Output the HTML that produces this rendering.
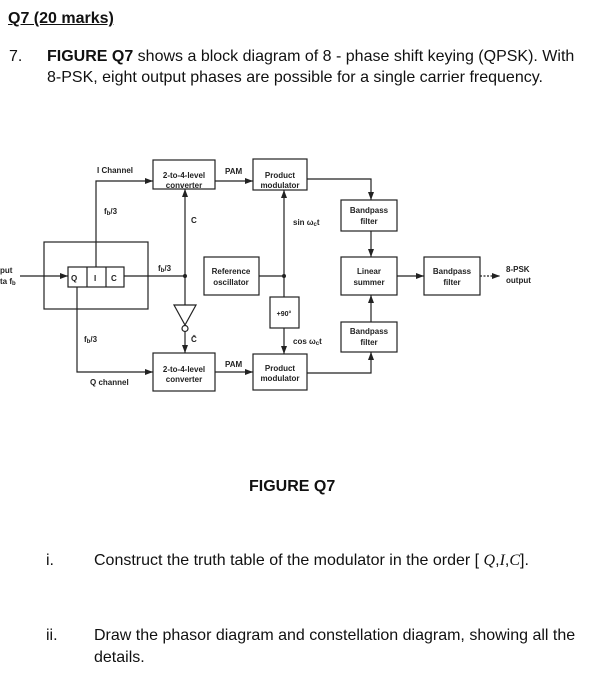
<!DOCTYPE html>
<html><head><meta charset="utf-8">
<style>
body{margin:0;width:608px;height:688px;background:#fff;position:relative;font-family:"Liberation Sans",sans-serif;color:#111;overflow:hidden}
.t{position:absolute;font-size:16px;white-space:nowrap;line-height:1}
svg{position:absolute;left:0;top:0}
svg text{font-family:"Liberation Sans",sans-serif;font-weight:bold;fill:#222}
</style></head><body>
<div class="t" style="left:8px;top:11px;font-weight:bold;text-decoration:underline">Q7 (20 marks)</div>
<div class="t" style="left:9px;top:49px">7.</div>
<div class="t" style="left:47px;top:49px"><b>FIGURE Q7</b> shows a block diagram of 8 - phase shift keying (QPSK). With</div>
<div class="t" style="left:47px;top:70px">8-PSK, eight output phases are possible for a single carrier frequency.</div>
<div class="t" style="left:249px;top:479px;font-weight:bold">FIGURE Q7</div>
<div class="t" style="left:46px;top:553px">i.</div>
<div class="t" style="left:94px;top:553px">Construct the truth table of the modulator in the order [ <i style="font-family:'Liberation Serif',serif">Q</i>,<i style="font-family:'Liberation Serif',serif">I</i>,<i style="font-family:'Liberation Serif',serif">C</i>].</div>
<div class="t" style="left:46px;top:628px">ii.</div>
<div class="t" style="left:94px;top:628px">Draw the phasor diagram and constellation diagram, showing all the</div>
<div class="t" style="left:94px;top:650px">details.</div>

<svg width="608" height="688" viewBox="0 0 608 688">
<defs><marker id="a" markerWidth="8" markerHeight="6" refX="8" refY="3" orient="auto" markerUnits="userSpaceOnUse"><path d="M0,0 L8,3 L0,6 z" fill="#222"/></marker></defs>
<g stroke="#222" stroke-width="1.2" fill="none">
<rect x="44" y="242" width="104" height="67"/>
<rect x="68" y="267" width="56" height="20"/>
<line x1="87" y1="267" x2="87" y2="287"/><line x1="106" y1="267" x2="106" y2="287"/>
<rect x="153" y="160" width="62" height="29"/>
<rect x="153" y="353" width="62" height="38"/>
<rect x="253" y="159" width="54" height="31"/>
<rect x="253" y="354" width="54" height="36"/>
<rect x="204" y="257" width="55" height="38"/>
<rect x="270" y="297" width="29" height="31"/>
<rect x="341" y="200" width="56" height="31"/>
<rect x="341" y="257" width="56" height="38"/>
<rect x="341" y="322" width="56" height="30"/>
<rect x="424" y="257" width="56" height="38"/>
<line x1="20" y1="276" x2="68" y2="276" marker-end="url(#a)"/>
<polyline points="96,267 96,181 153,181" marker-end="url(#a)"/>
<polyline points="77,287 77,372 153,372" marker-end="url(#a)"/>
<line x1="124" y1="276" x2="185" y2="276"/>
<line x1="185" y1="276" x2="185" y2="189" marker-end="url(#a)"/>
<line x1="185" y1="276" x2="185" y2="305"/>
<path d="M174,305 L196,305 L185,325 z"/>
<circle cx="185" cy="328.5" r="3"/>
<line x1="185" y1="332" x2="185" y2="353" marker-end="url(#a)"/>
<line x1="215" y1="181" x2="253" y2="181" marker-end="url(#a)"/>
<line x1="215" y1="372" x2="253" y2="372" marker-end="url(#a)"/>
<line x1="259" y1="276" x2="284" y2="276"/>
<line x1="284" y1="297" x2="284" y2="190" marker-end="url(#a)"/>
<line x1="284" y1="328" x2="284" y2="354" marker-end="url(#a)"/>
<polyline points="307,179 371,179 371,200" marker-end="url(#a)"/>
<line x1="371" y1="231" x2="371" y2="257" marker-end="url(#a)"/>
<polyline points="307,373 371,373 371,352" marker-end="url(#a)"/>
<line x1="371" y1="322" x2="371" y2="295" marker-end="url(#a)"/>
<line x1="397" y1="276" x2="424" y2="276" marker-end="url(#a)"/>
<line x1="480" y1="276" x2="500" y2="276" stroke-dasharray="2,1.5" marker-end="url(#a)"/>
</g>
<circle cx="185" cy="276" r="2" fill="#222"/><circle cx="284" cy="276" r="2" fill="#222"/>
<g font-size="8">
<text x="0" y="273">put</text><text x="0" y="284">ta f<tspan font-size="6" dy="1">b</tspan></text>
<text x="71" y="281">Q</text><text x="94" y="281">I</text><text x="111" y="281">C</text>
<text x="97" y="173" font-weight="normal">I Channel</text>
<text x="104" y="214">f<tspan font-size="6" dy="1">b</tspan><tspan dy="-1">/3</tspan></text>
<text x="158" y="271">f<tspan font-size="6" dy="1">b</tspan><tspan dy="-1">/3</tspan></text>
<text x="84" y="342">f<tspan font-size="6" dy="1">b</tspan><tspan dy="-1">/3</tspan></text>
<text x="191" y="223">C</text>
<text x="191" y="342">C̄</text>
<text x="90" y="385" font-weight="normal">Q channel</text>
<text x="184" y="178" text-anchor="middle">2-to-4-level</text><text x="184" y="188" text-anchor="middle">converter</text>
<text x="184" y="372" text-anchor="middle">2-to-4-level</text><text x="184" y="382" text-anchor="middle">converter</text>
<text x="225" y="174">PAM</text><text x="225" y="367">PAM</text>
<text x="280" y="178" text-anchor="middle">Product</text><text x="280" y="188" text-anchor="middle">modulator</text>
<text x="280" y="371" text-anchor="middle">Product</text><text x="280" y="381" text-anchor="middle">modulator</text>
<text x="231" y="274" text-anchor="middle">Reference</text><text x="231" y="285" text-anchor="middle">oscillator</text>
<text x="284" y="316" text-anchor="middle" font-size="7">+90°</text>
<text x="293" y="225" font-weight="normal">sin ω<tspan font-size="6" dy="1">c</tspan><tspan dy="-1">t</tspan></text>
<text x="293" y="344" font-weight="normal">cos ω<tspan font-size="6" dy="1">c</tspan><tspan dy="-1">t</tspan></text>
<text x="369" y="213" text-anchor="middle">Bandpass</text><text x="369" y="224" text-anchor="middle">filter</text>
<text x="369" y="274" text-anchor="middle">Linear</text><text x="369" y="285" text-anchor="middle">summer</text>
<text x="369" y="334" text-anchor="middle">Bandpass</text><text x="369" y="345" text-anchor="middle">filter</text>
<text x="452" y="274" text-anchor="middle">Bandpass</text><text x="452" y="285" text-anchor="middle">filter</text>
<text x="506" y="272">8-PSK</text><text x="506" y="283">output</text>
</g>
</svg>
</body></html>
